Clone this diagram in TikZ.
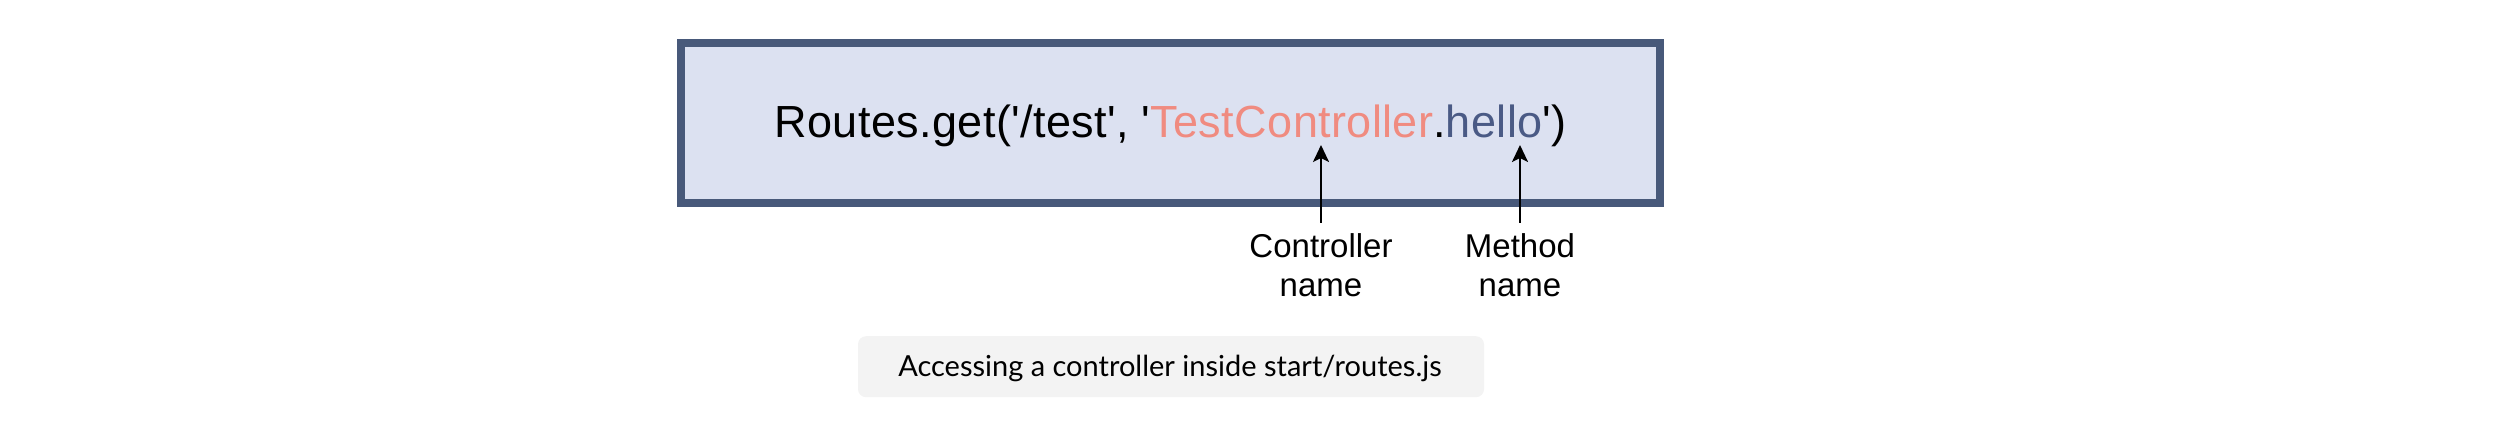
\documentclass[tikz,border=0pt]{standalone}
\usepackage{fontspec}
\setmainfont{Liberation Sans}
\newfontfamily\codefont{Liberation Sans}[Ligatures=TeXOff,LetterSpace=0.9]
\newfontfamily\capfont{Lato}
\usetikzlibrary{arrows.meta}
\definecolor{boxfill}{RGB}{220,225,241}
\definecolor{boxline}{RGB}{72,89,122}
\definecolor{salmon}{RGB}{240,139,128}
\definecolor{methodcol}{RGB}{74,90,133}
\definecolor{capfill}{RGB}{243,243,243}
\tikzset{
  codebox/.style={draw=boxline, line width=8pt, fill=boxfill},
  arr/.style={line width=2.5pt, -{Stealth[length=17pt,width=16pt,inset=4pt]}},
  lbl/.style={inner xsep=0pt, inner ysep=11pt, anchor=north, align=center, font=\fontsize{33}{39}\selectfont},
  capbox/.style={fill=capfill, rounded corners=8pt, minimum width=626pt, minimum height=61pt, inner sep=0pt},
}
\begin{document}
\begin{tikzpicture}[x=1pt,y=-1pt]
\useasboundingbox (0,0) rectangle (2500,432);
\draw[codebox] (681,43) rectangle (1660,202.5);
\node[anchor=base, inner sep=0pt, font=\codefont\fontsize{45}{50}\selectfont] (code) at (1170.5,137.5)
  {Routes.get('/test', '\textcolor{salmon}{TestController}.\textcolor{methodcol}{hello}')};
\coordinate (ctip) at (1321,145);
\coordinate (mtip) at (1520,145);
\node[lbl] (ctrl) at (1321,222.5) {Controller\\name};
\node[lbl] (meth) at (1520,222.5) {Method\\name};
\draw[arr] (ctrl.north) -- (ctip);
\draw[arr] (meth.north) -- (mtip);
\node[capbox] (cap) at (1171,366.7) {};
\node[anchor=base, inner sep=0pt, font=\capfont\fontsize{29}{34}\selectfont] (captext) at (1170,376.5) {Accessing a controller inside start/routes.js};
\end{tikzpicture}
\end{document}
